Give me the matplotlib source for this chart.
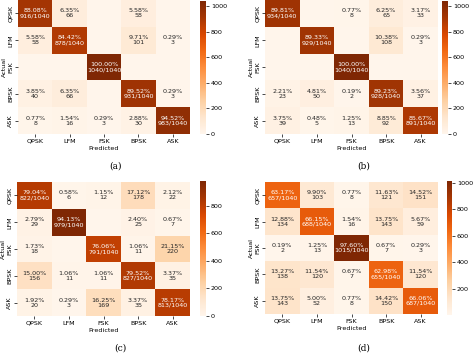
import numpy as np
import matplotlib
matplotlib.use('Agg')
import matplotlib.pyplot as plt
import seaborn as sns

# class names and confusion counts for the four models
classes = ['QPSK', 'LFM', 'FSK', 'BPSK', 'ASK']

cm_a = [[916, 66, 0, 58, 0],
        [58, 878, 0, 101, 3],
        [0, 0, 1040, 0, 0],
        [40, 66, 0, 931, 3],
        [8, 16, 3, 30, 983]]

cm_b = [[934, 0, 8, 65, 33],
        [0, 929, 0, 108, 3],
        [0, 0, 1040, 0, 0],
        [23, 50, 2, 928, 37],
        [39, 5, 13, 92, 891]]

cm_c = [[822, 6, 12, 178, 22],
        [29, 979, 0, 25, 7],
        [18, 0, 791, 11, 220],
        [156, 11, 11, 827, 35],
        [20, 3, 169, 35, 813]]

cm_d = [[657, 103, 8, 121, 151],
        [134, 688, 16, 143, 59],
        [2, 13, 1015, 7, 3],
        [138, 120, 7, 655, 120],
        [143, 52, 8, 150, 687]]

captions = ['(a)', '(b)', '(c)', '(d)']

W, H = 474, 353
fig = plt.figure(figsize=(W / 100, H / 100), dpi=100)


def rect(l, t, r, b):
    return [l / W, 1 - b / H, (r - l) / W, (b - t) / H]


def make_labels(cm):
    cm = np.array(cm)
    labels = np.empty(cm.shape, dtype=object)
    for i in range(cm.shape[0]):
        tot = cm[i].sum()
        for j in range(cm.shape[1]):
            v = cm[i, j]
            if v == 0:
                labels[i, j] = ''
            elif i == j:
                labels[i, j] = f'{100 * v / tot:.2f}%\n{v}/{tot}'
            else:
                labels[i, j] = f'{100 * v / tot:.2f}%\n{v}'
    return labels


panels = [
    (cm_a, (18, 0, 190, 134), (200, 1, 206, 134), (115, 166)),
    (cm_b, (265, 0, 438, 134), (442, 1, 448, 134), (364, 166)),
    (cm_c, (17, 182, 190, 316), (200, 181, 206, 316), (120, 348)),
    (cm_d, (265, 182, 438, 314), (447, 181, 452, 315), (364, 348)),
]

for (cm, hrect, crect, cap), name in zip(panels, captions):
    ax = fig.add_axes(rect(*hrect))
    cax = fig.add_axes(rect(*crect))
    sns.heatmap(np.array(cm), annot=make_labels(cm), fmt='', cmap='Oranges',
                ax=ax, cbar_ax=cax, annot_kws={'fontsize': 4.6, 'linespacing': 1.0},
                xticklabels=classes, yticklabels=classes)
    ax.set_xlabel('Predicted', fontsize=4.6, labelpad=1.5)
    ax.set_ylabel('Actual', fontsize=4.6, labelpad=1)
    ax.tick_params(labelsize=4.6, length=2, width=0.5, pad=1.5)
    plt.setp(ax.get_yticklabels(), rotation=90, va='center')
    plt.setp(ax.get_xticklabels(), rotation=0)
    cax.tick_params(labelsize=4.6, length=2, width=0.5, pad=1.5)
    fig.text(cap[0] / W, 1 - cap[1] / H, name, ha='center', va='center',
             fontsize=6.5, family='DejaVu Serif')

fig.savefig('out.png', dpi=100)
